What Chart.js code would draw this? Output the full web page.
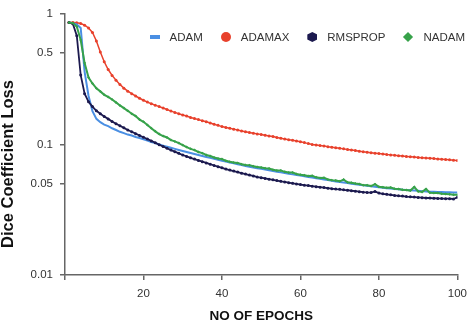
<!DOCTYPE html>
<html>
<head>
<meta charset="utf-8">
<script src="https://cdn.jsdelivr.net/npm/chart.js@4.4.0/dist/chart.umd.min.js"></script>
<style>
  html, body { margin: 0; padding: 0; background: #fff; }
  #wrap { position: relative; width: 474px; height: 323px; }
  #legend {
    position: absolute; right: 9px; top: 30px; margin: 0; padding: 0;
    list-style: none; display: flex; gap: 18px;
    font: 11.5px "Liberation Sans", Arial, sans-serif; color: #333; line-height: 14px;
  }
  #legend li { display: flex; align-items: center; }
  #legend .mk { width: 10px; height: 10px; margin-right: 10px; }
  #legend .mk.line { height: 3.5px; }
  #legend .mk.circle { border-radius: 50%; }
  #legend .mk.hex { clip-path: polygon(50% 0, 100% 25%, 100% 75%, 50% 100%, 0 75%, 0 25%); }
  #legend .mk.diamond { transform: rotate(45deg) scale(0.72); }
</style>
</head>
<body>
<div id="wrap">
  <canvas id="chartLoss"></canvas>
  <ul id="legend"></ul>
</div>
<script>
// Epochs 1..100
const epochs = Array.from({ length: 100 }, (_, i) => i + 1);

const adam = [
  0.86, 0.85, 0.83, 0.78, 0.36, 0.235, 0.18, 0.157, 0.148, 0.142,
  0.138, 0.133, 0.129, 0.125, 0.122, 0.119, 0.117, 0.114, 0.112, 0.1095,
  0.107, 0.1045, 0.1025, 0.100, 0.098, 0.0961, 0.0943, 0.0925, 0.0908, 0.0891,
  0.0875, 0.0859, 0.0844, 0.083, 0.0816, 0.0802, 0.0789, 0.0776, 0.0763, 0.0751,
  0.0739, 0.0727, 0.0716, 0.0705, 0.0695, 0.0685, 0.0676, 0.0667, 0.0658, 0.065,
  0.0642, 0.0634, 0.0626, 0.0618, 0.0611, 0.0604, 0.0597, 0.059, 0.0584, 0.0577,
  0.057, 0.0563, 0.0557, 0.0551, 0.0545, 0.0539, 0.0533, 0.0527, 0.0521, 0.0516,
  0.0511, 0.0506, 0.0501, 0.0496, 0.0491, 0.0486, 0.0482, 0.0478, 0.0474, 0.047,
  0.0466, 0.0462, 0.0459, 0.0456, 0.0453, 0.045, 0.0447, 0.0445, 0.0443, 0.0441,
  0.0439, 0.0437, 0.0435, 0.0434, 0.0433, 0.0432, 0.0431, 0.043, 0.0429, 0.0428
];

const adamax = [
  0.86, 0.86, 0.855, 0.845, 0.82, 0.78, 0.72, 0.62, 0.51, 0.43,
  0.375, 0.338, 0.31, 0.288, 0.27, 0.256, 0.245, 0.235, 0.226, 0.218,
  0.211, 0.205, 0.2, 0.195, 0.19, 0.185, 0.18, 0.176, 0.172, 0.168,
  0.165, 0.161, 0.158, 0.155, 0.152, 0.149, 0.146, 0.143, 0.14, 0.137,
  0.135, 0.133, 0.131, 0.129, 0.127, 0.125, 0.1235, 0.122, 0.1205, 0.119,
  0.1175, 0.116, 0.115, 0.113, 0.1115, 0.11, 0.1088, 0.1075, 0.1063, 0.105,
  0.1033, 0.1015, 0.1, 0.0992, 0.0982, 0.0975, 0.0962, 0.0953, 0.0944, 0.0935,
  0.0925, 0.0915, 0.0906, 0.0897, 0.0888, 0.0879, 0.0872, 0.0865, 0.0858, 0.0851,
  0.0846, 0.0838, 0.0832, 0.0826, 0.082, 0.0815, 0.081, 0.0805, 0.08, 0.0796,
  0.0792, 0.0787, 0.0783, 0.0779, 0.0775, 0.0771, 0.0767, 0.0762, 0.0758, 0.0753
];

const rmsprop = [
  0.86, 0.84, 0.68, 0.34, 0.245, 0.212, 0.195, 0.181, 0.172, 0.164,
  0.157, 0.15, 0.144, 0.139, 0.134, 0.129, 0.125, 0.121, 0.117, 0.1135,
  0.11, 0.1065, 0.103, 0.0995, 0.0965, 0.0935, 0.0905, 0.088, 0.0855, 0.083,
  0.081, 0.079, 0.0772, 0.0755, 0.0738, 0.0722, 0.0706, 0.069, 0.0676, 0.0662,
  0.0648, 0.0636, 0.0625, 0.0614, 0.0603, 0.0593, 0.0583, 0.0574, 0.0563, 0.0557,
  0.0549, 0.0542, 0.0536, 0.0529, 0.0522, 0.0516, 0.051, 0.0504, 0.0498, 0.0493,
  0.0488, 0.0484, 0.0479, 0.0475, 0.0471, 0.0467, 0.0462, 0.0458, 0.0455, 0.0453,
  0.0449, 0.0446, 0.0442, 0.0439, 0.0435, 0.0431, 0.0429, 0.0428, 0.0437, 0.0424,
  0.0419, 0.0415, 0.0411, 0.0407, 0.0404, 0.0402, 0.0399, 0.0397, 0.0395, 0.0393,
  0.0391, 0.0389, 0.0389, 0.0387, 0.0386, 0.0385, 0.0384, 0.0384, 0.0382, 0.0394
];

const nadam = [
  0.86, 0.85, 0.80, 0.63, 0.42, 0.325, 0.293, 0.269, 0.255, 0.24,
  0.231, 0.221, 0.21, 0.199, 0.19, 0.181, 0.172, 0.165, 0.155, 0.149,
  0.141, 0.133, 0.126, 0.12, 0.116, 0.113, 0.108, 0.1055, 0.1025, 0.099,
  0.0955, 0.0925, 0.0905, 0.0875, 0.0858, 0.083, 0.0815, 0.0795, 0.078, 0.0772,
  0.075, 0.0738, 0.0728, 0.0722, 0.0705, 0.0697, 0.0694, 0.068, 0.0672, 0.0665,
  0.0656, 0.0655, 0.064, 0.0632, 0.0631, 0.0617, 0.061, 0.061, 0.0594, 0.0587,
  0.058, 0.0573, 0.0575, 0.056, 0.0553, 0.0555, 0.054, 0.0533, 0.053, 0.0522,
  0.0538, 0.0513, 0.0509, 0.0502, 0.0498, 0.0488, 0.0486, 0.048, 0.0496, 0.0474,
  0.047, 0.0466, 0.0468, 0.0458, 0.0455, 0.045, 0.0447, 0.0443, 0.0472, 0.0437,
  0.0433, 0.0455, 0.0427, 0.0425, 0.0424, 0.0419, 0.0418, 0.0415, 0.0412, 0.0411
];

const yTicks = [0.01, 0.05, 0.1, 0.5, 1];
const xTitle = 'NO OF EPOCHS';
const yTitle = 'Dice Coefficient Loss';

const colors = {
  adam: '#4a8fe3',
  adamax: '#e8412c',
  rmsprop: '#1c1a4f',
  nadam: '#37a24a'
};

// marker shape per dataset for the html legend
const markers = ['line', 'circle', 'hex', 'diamond'];

const toPoints = arr => epochs.map((e, i) => ({ x: e, y: arr[i] }));

// html legend, one row in the top right of the plot
const htmlLegend = {
  id: 'htmlLegend',
  afterUpdate(chart) {
    const ul = document.getElementById('legend');
    ul.innerHTML = '';
    chart.data.datasets.forEach((ds, i) => {
      const li = document.createElement('li');
      const mk = document.createElement('span');
      mk.className = 'mk ' + markers[i];
      mk.style.background = ds.borderColor;
      const txt = document.createElement('span');
      txt.textContent = ds.label;
      li.appendChild(mk);
      li.appendChild(txt);
      ul.appendChild(li);
    });
  }
};

// rotated y title, placed like the original (not centred on the axis)
const yTitlePlugin = {
  id: 'yTitle',
  afterDraw(chart) {
    const ctx = chart.ctx;
    ctx.save();
    ctx.translate(8, 164);
    ctx.rotate(-Math.PI / 2);
    ctx.font = 'bold 16.5px "Liberation Sans", Arial, sans-serif';
    ctx.fillStyle = '#111';
    ctx.textAlign = 'center';
    ctx.textBaseline = 'middle';
    ctx.fillText(yTitle, 0, 0);
    ctx.restore();
  }
};

Chart.defaults.font.family = '"Liberation Sans", Arial, sans-serif';

new Chart(document.getElementById('chartLoss'), {
  type: 'line',
  data: {
    datasets: [{
      label: 'ADAM',
      data: toPoints(adam),
      borderColor: colors.adam,
      backgroundColor: colors.adam,
      borderWidth: 2,
      pointRadius: 0,
      order: 2
    }, {
      label: 'ADAMAX',
      data: toPoints(adamax),
      borderColor: colors.adamax,
      backgroundColor: colors.adamax,
      borderWidth: 1.5,
      pointRadius: 1.5,
      pointBorderWidth: 0,
      order: 3
    }, {
      label: 'RMSPROP',
      data: toPoints(rmsprop),
      borderColor: colors.rmsprop,
      backgroundColor: colors.rmsprop,
      borderWidth: 1.8,
      pointRadius: 1.5,
      pointBorderWidth: 0,
      order: 1
    }, {
      label: 'NADAM',
      data: toPoints(nadam),
      borderColor: colors.nadam,
      backgroundColor: colors.nadam,
      borderWidth: 2,
      pointRadius: 1.5,
      pointStyle: 'rectRot',
      pointBorderWidth: 0,
      order: 0
    }]
  },
  options: {
    responsive: true,
    maintainAspectRatio: false,
    animation: false,
    devicePixelRatio: 1,
    layout: { padding: { top: 6, right: 12, left: 0, bottom: 0 } },
    plugins: {
      tooltip: { enabled: false },
      legend: { display: false }
    },
    scales: {
      x: {
        type: 'linear',
        min: 0,
        max: 100,
        afterFit: s => { s.height = 48; },
        ticks: {
          stepSize: 20,
          padding: 7,
          color: '#333',
          font: { size: 11.5 },
          callback: v => (v === 0 ? '' : v)
        },
        grid: { drawOnChartArea: false, tickLength: 5, color: '#666', lineWidth: 1.5 },
        border: { color: '#666', width: 1.5 },
        title: {
          display: true,
          text: xTitle,
          color: '#111',
          font: { size: 13.5, weight: 'bold', lineHeight: 1 },
          padding: { top: 0, bottom: 0 }
        }
      },
      y: {
        type: 'logarithmic',
        min: 0.01,
        max: 1,
        afterFit: s => { s.width = 65; },
        afterBuildTicks: s => { s.ticks = yTicks.map(v => ({ value: v })); },
        ticks: {
          padding: 7,
          color: '#333',
          font: { size: 11.5 },
          callback: v => String(v)
        },
        grid: { drawOnChartArea: false, tickLength: 5, color: '#666', lineWidth: 1.5 },
        border: { color: '#666', width: 1.5 }
      }
    }
  },
  plugins: [htmlLegend, yTitlePlugin]
});
</script>
</body>
</html>
